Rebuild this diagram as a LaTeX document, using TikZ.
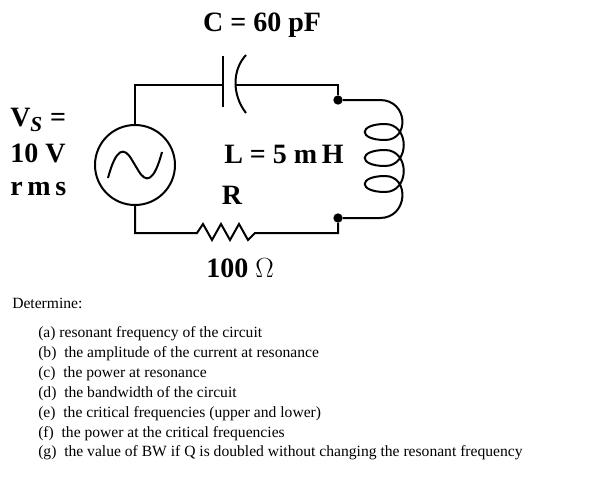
\documentclass[tikz,border=0pt]{standalone}
\usepackage{fontspec}
\setmainfont{Liberation Serif}
\begin{document}
\begin{tikzpicture}[x=0.75pt,y=-0.75pt,
  wire/.style={line width=1.5pt},
  lbl/.style={font=\fontsize{21}{24}\selectfont\bfseries, inner sep=0pt},
  item/.style={font=\fontsize{11.7}{14}\selectfont, anchor=west, inner sep=0pt},
  dotc/.style={circle, fill=black, inner sep=0pt, minimum size=7pt}]
\useasboundingbox (0,0) rectangle (608,483);
% source
\node[draw, circle, line width=1.5pt, minimum size=60pt, inner sep=0pt] (src) at (135,165) {};
\draw[line width=1.5pt] (108,178) .. controls (116,148) and (124,146) .. (132,160)
  -- (138,170) .. controls (146,184) and (154,182) .. (162,152);
\coordinate (tl) at (135,85);
\coordinate (bl) at (135,233);
\node[dotc] (d1) at (338,100) {};
\node[dotc] (d2) at (338,218) {};
\coordinate (tr) at (338,85);
\coordinate (br) at (338,233);
% capacitor
\coordinate (c1) at (223,85);
\coordinate (c2) at (236,85);
\draw[wire] (src.north) -- (tl) -- (c1);
\draw[wire] (223,56) -- (223,107);
\draw[wire] (246,55) .. controls (232,70) and (232,95) .. (246,113);
\draw[wire] (c2) -- (tr) -- (d1);
% resistor
\coordinate (r1) at (197,233);
\coordinate (r2) at (255,233);
\draw[wire] (src.south) -- (bl) -- (r1) -- (203,224) -- (212,240) -- (221,224) -- (230,240) -- (239,224) -- (248,240) -- (r2) -- (br) -- (d2);
% coil
\draw[wire] (d1) -- (380,100)
  .. controls (408,100) and (410,140) .. (385,140)
  .. controls (358,140) and (358,124) .. (385,124)
  .. controls (410,124) and (410,166) .. (385,166)
  .. controls (358,166) and (358,150) .. (385,150)
  .. controls (410,150) and (410,192) .. (385,192)
  .. controls (358,192) and (358,176) .. (385,176)
  .. controls (410,176) and (408,218) .. (380,218) -- (d2);
% labels
\node[lbl] (lc) at (262,25) {C = 60 pF};
\node[lbl, anchor=west] (lv1) at (10,120) {V$_{\textit{\fontsize{16}{16}\selectfont S}}$ =};
\node[lbl, anchor=west] (lv2) at (10,153) {10 V};
\node[lbl, anchor=west] (lv3) at (10,189) {r\,m\,s};
\node[lbl] (ll) at (284,154) {L = 5 m\,H};
\node[lbl] (lr) at (232,195) {R};
\node[lbl] (lo) at (240,268) {100 $\Omega$};
% text
\node[item] (det) at (12,303) {Determine:};
\node[item] (a) at (38,334) {(a) resonant frequency of the circuit};
\node[item] (b) at (38,354) {(b)\ \ the amplitude of the current at resonance};
\node[item] (c) at (38,374) {(c)\ \ the power at resonance};
\node[item] (d) at (38,394) {(d)\ \ the bandwidth of the circuit};
\node[item] (e) at (38,414) {(e)\ \ the critical frequencies (upper and lower)};
\node[item] (f) at (38,434) {(f)\ \ the power at the critical frequencies};
\node[item] (g) at (38,453) {(g)\ \ the value of BW if Q is doubled without changing the resonant frequency};
\end{tikzpicture}
\end{document}
